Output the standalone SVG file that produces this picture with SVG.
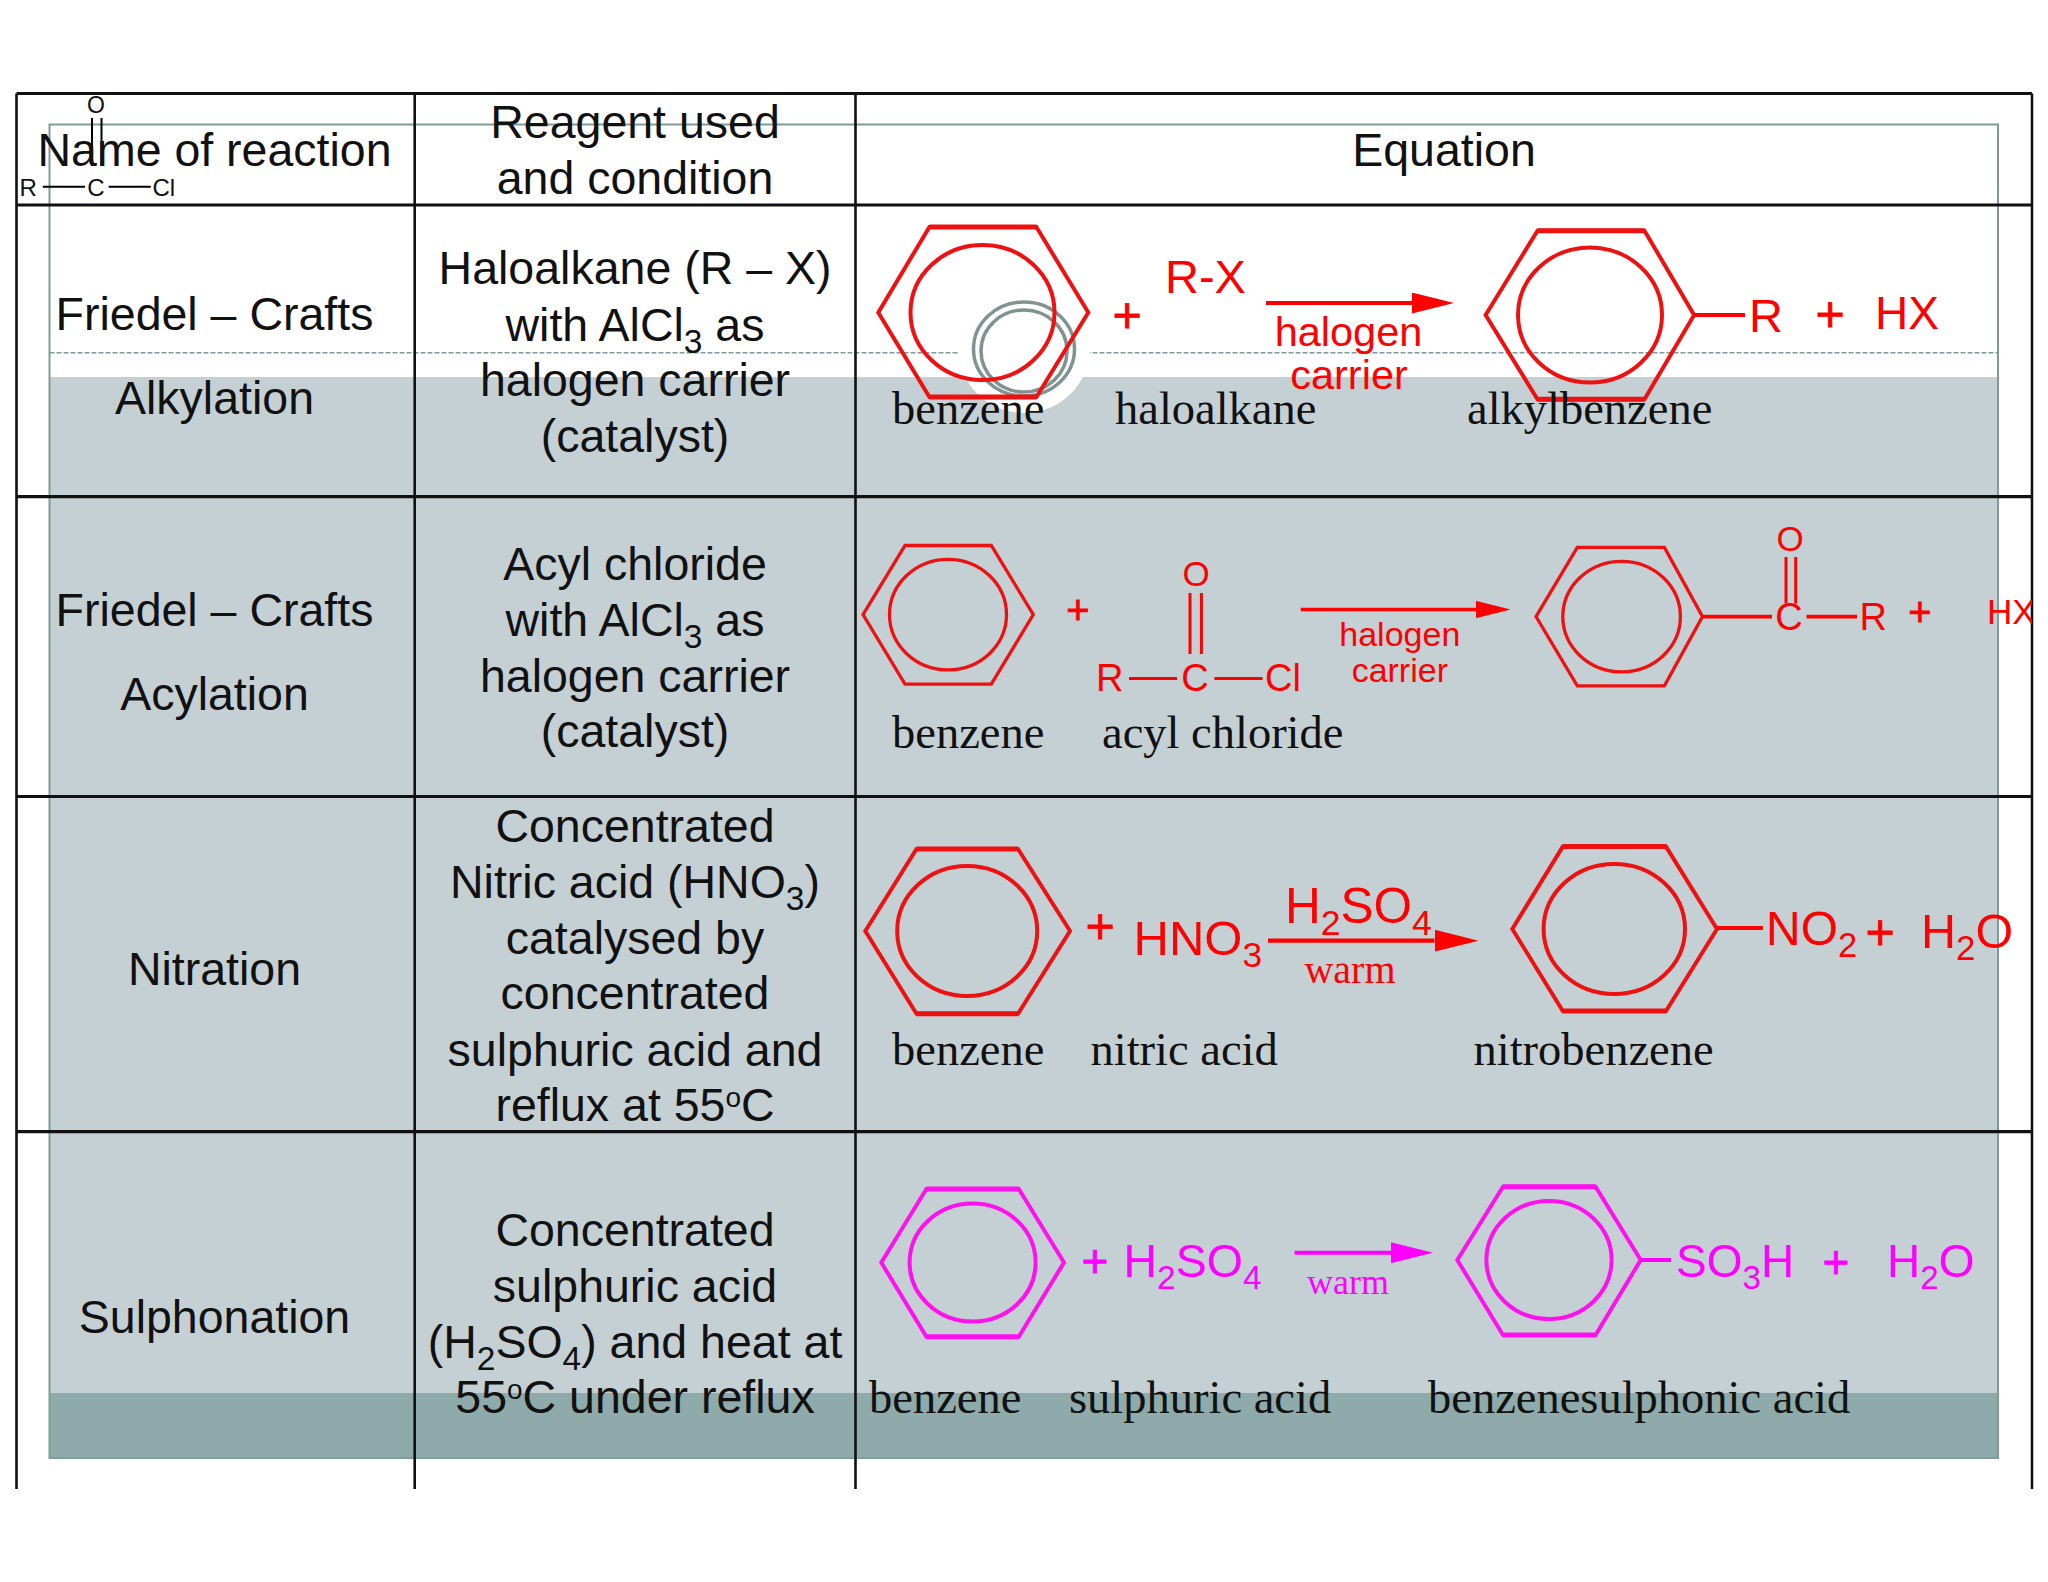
<svg xmlns="http://www.w3.org/2000/svg" width="2048" height="1582" viewBox="0 0 2048 1582">
<style>
text{font-family:"Liberation Sans",Arial,sans-serif;fill:#111}
.c{font-size:46.5px;text-anchor:middle;transform:translateY(1px)}
.l{font-family:"Liberation Serif","Times New Roman",serif;font-size:46.5px;transform:translateY(1px)}
.s{font-size:.72em}
.u{font-size:.6em}
.r{fill:#ff0000}
.m{fill:#ff00ff}
.p{stroke:#ff0000;stroke-width:.8}
.pm{stroke:#ff00ff;stroke-width:.8}
.hr{fill:none;stroke:#ee1111;stroke-width:4}
.hr2{fill:none;stroke:#ee1111;stroke-width:3.3}
.hm{fill:none;stroke:#ff11ee;stroke-width:4}
.er{fill:none;stroke:#ee1111;stroke-width:5}
.em{fill:none;stroke:#ff11ee;stroke-width:5}
.br{fill:none;stroke:#ff0000;stroke-width:4}
.bm{fill:none;stroke:#ff00ff;stroke-width:4}
.gr{stroke:#000;stroke-width:2;fill:none}
.tb{stroke:#111;stroke-width:3.2;fill:none}
.tv{stroke:#111;stroke-width:2.6;fill:none}
</style>
<defs>
<marker id="ar" markerUnits="strokeWidth" markerWidth="10.5" markerHeight="5.25" viewBox="0 0 10.5 5.25" refX="0" refY="2.625" orient="auto"><path d="M0 0L10.5 2.625L0 5.25z" fill="#ff0000"/></marker>
<marker id="am" markerUnits="strokeWidth" markerWidth="10.5" markerHeight="5.25" viewBox="0 0 10.5 5.25" refX="0" refY="2.625" orient="auto"><path d="M0 0L10.5 2.625L0 5.25z" fill="#ff00ff"/></marker>
<clipPath id="tc"><rect x="0" y="0" width="2032" height="1582"/></clipPath>
</defs>
<rect width="2048" height="1582" fill="#fff"/>
<g id="slide-background">
<rect x="49.5" y="377" width="1948.5" height="1016" fill="#c5d0d5"/>
<rect x="49.5" y="1393" width="1948.5" height="65" fill="#8eaaaa"/>
<path d="M49.5 352.7H1998" stroke="#7f9c98" stroke-width="1.6" stroke-dasharray="5 2" fill="none"/>
<circle cx="1024" cy="347" r="66" fill="#fff"/>
<ellipse cx="1024" cy="349" rx="50.5" ry="47" fill="none" stroke="#7f9491" stroke-width="3.5"/>
<ellipse cx="1024" cy="351" rx="43" ry="41" fill="none" stroke="#7f9491" stroke-width="3.5"/>
<rect x="49.5" y="124.5" width="1948.5" height="1333.5" fill="none" stroke="#7f9c98" stroke-width="2"/>
</g>
<g id="table-grid">
<path class="tb" d="M16.5 93.5H2032M16.5 205H2032M16.5 496.7H2032M16.5 796.5H2032M16.5 1131.7H2032"/>
<path class="tv" d="M16.5 93.5V1489M414.7 93.5V1489M855.5 93.5V1489M2032 93.5V1489"/>
</g>
<g id="acyl-note">
<text x="96" y="113" font-size="23" text-anchor="middle">O</text>
<path class="gr" d="M92 118V166M101.5 118V166M42.8 186.7H85M108.6 186.7H150.8"/>
<text x="19.5" y="196" font-size="24">R</text>
<text x="96" y="196" font-size="24" text-anchor="middle">C</text>
<text x="152.5" y="196" font-size="24">Cl</text>
</g>
<g id="header-name"><text class="c" x="214.5" y="165">Name of reaction</text></g>
<g id="header-reagent"><text class="c" x="635" y="137">Reagent used</text><text class="c" x="635" y="193">and condition</text></g>
<g id="header-equation"><text class="c" x="1444" y="165">Equation</text></g>
<g id="name-alkylation"><text class="c" x="214.5" y="329">Friedel – Crafts</text><text class="c" x="214.5" y="413">Alkylation</text></g>
<g id="reagent-alkylation">
<text class="c" x="635" y="283">Haloalkane (R – X)</text>
<text class="c" x="635" y="340">with AlCl<tspan class="s" dy="12">3</tspan><tspan dy="-12"> as</tspan></text>
<text class="c" x="635" y="395">halogen carrier</text>
<text class="c" x="635" y="451">(catalyst)</text>
</g>
<g id="name-acylation"><text class="c" x="214.5" y="625">Friedel – Crafts</text><text class="c" x="214.5" y="709">Acylation</text></g>
<g id="reagent-acylation">
<text class="c" x="635" y="579">Acyl chloride</text>
<text class="c" x="635" y="635">with AlCl<tspan class="s" dy="12">3</tspan><tspan dy="-12"> as</tspan></text>
<text class="c" x="635" y="691">halogen carrier</text>
<text class="c" x="635" y="746">(catalyst)</text>
</g>
<g id="name-nitration"><text class="c" x="214.5" y="984">Nitration</text></g>
<g id="reagent-nitration">
<text class="c" x="635" y="840.5">Concentrated</text>
<text class="c" x="635" y="897">Nitric acid (HNO<tspan class="s" dy="12">3</tspan><tspan dy="-12">)</tspan></text>
<text class="c" x="635" y="952.5">catalysed by</text>
<text class="c" x="635" y="1008">concentrated</text>
<text class="c" x="635" y="1064.5">sulphuric acid and</text>
<text class="c" x="635" y="1120">reflux at 55<tspan class="u" dy="-14">o</tspan><tspan dy="14">C</tspan></text>
</g>
<g id="name-sulphonation"><text class="c" x="214.5" y="1332">Sulphonation</text></g>
<g id="reagent-sulphonation">
<text class="c" x="635" y="1244.5">Concentrated</text>
<text class="c" x="635" y="1300.5">sulphuric acid</text>
<text class="c" x="635" y="1356.5">(H<tspan class="s" dy="12">2</tspan><tspan dy="-12">SO</tspan><tspan class="s" dy="12">4</tspan><tspan dy="-12">) and heat at</tspan></text>
<text class="c" x="635" y="1412">55<tspan class="u" dy="-14">o</tspan><tspan dy="14">C under reflux</tspan></text>
</g>
<g id="eq-alkylation">
<g id="benzene-1"><polygon class="hr" points="878.3,312.5 929.4,227 1036.4,227 1088.3,312.5 1036.4,397 929.4,397"/><path class="er" d="M929.4 227H1036.4M929.4 397H1036.4"/><ellipse class="hr" cx="982.5" cy="312.5" rx="72" ry="67.5"/></g>
<text class="r p" x="1127" y="332" font-size="50" text-anchor="middle">+</text>
<text class="r" x="1165" y="293" font-size="47">R-X</text>
<text class="r" x="1348.5" y="346" font-size="41.5" text-anchor="middle">halogen</text>
<text class="r" x="1349" y="389" font-size="41.5" text-anchor="middle">carrier</text>
<g id="alkylbenzene"><polygon class="hr" points="1485.6,315 1537.5,230.7 1644.5,230.7 1694.1,315 1644.5,399.3 1537.5,399.3"/><path class="er" d="M1537.5 230.7H1644.5M1537.5 399.3H1644.5"/><ellipse class="hr" cx="1590" cy="315" rx="72" ry="67.5"/></g>
<text class="r" x="1749" y="332" font-size="47">R</text>
<text class="r p" x="1830" y="331" font-size="50" text-anchor="middle">+</text>
<text class="r" x="1875" y="329" font-size="46">HX</text>
<text class="l" x="892" y="423">benzene</text>
<text class="l" x="1115" y="423">haloalkane</text>
<text class="l" x="1467" y="423">alkylbenzene</text>
</g>
<g id="eq-acylation">
<g id="benzene-2"><polygon class="hr2" points="863,614.6 905,545.5 991.3,545.5 1033.3,614.6 991.3,684.2 905,684.2"/><ellipse class="hr2" cx="948" cy="614.6" rx="58.5" ry="55.3"/></g>
<text class="r p" x="1078" y="624" font-size="40" text-anchor="middle">+</text>
<text class="r" x="1196" y="586" font-size="35" text-anchor="middle">O</text>
<text class="r" x="1096" y="691" font-size="38">R</text>
<text class="r" x="1195" y="691" font-size="38" text-anchor="middle">C</text>
<text class="r" x="1265" y="691" font-size="38">Cl</text>
<text class="r" x="1399.8" y="645.5" font-size="34" text-anchor="middle">halogen</text>
<text class="r" x="1399.8" y="682" font-size="34" text-anchor="middle">carrier</text>
<g id="acylbenzene"><polygon class="hr2" points="1536,616.6 1577.3,547.4 1664.4,547.4 1702.5,616.6 1664.4,685.8 1577.3,685.8"/><ellipse class="hr2" cx="1621.6" cy="616.6" rx="58.8" ry="55.3"/></g>
<text class="r" x="1790" y="551.4" font-size="35" text-anchor="middle">O</text>
<text class="r" x="1789" y="630" font-size="38" text-anchor="middle">C</text>
<text class="r" x="1859.5" y="630" font-size="38">R</text>
<text class="r p" x="1920" y="626" font-size="40" text-anchor="middle">+</text>
<text class="r" x="1987" y="624" font-size="35" clip-path="url(#tc)">HX</text>
<text class="l" x="892" y="747">benzene</text>
<text class="l" x="1102" y="747">acyl chloride</text>
</g>
<g id="eq-nitration">
<g id="benzene-3"><polygon class="hr" points="865.3,931 916.5,849 1018,849 1070,931 1018,1013.8 916.5,1013.8"/><path class="er" d="M916.5 849H1018M916.5 1013.8H1018"/><ellipse class="hr" cx="967.2" cy="931" rx="70" ry="65"/></g>
<text class="r p" x="1100" y="943" font-size="50" text-anchor="middle">+</text>
<text class="r" x="1133.5" y="955" font-size="49">HNO<tspan class="s" dy="12">3</tspan></text>
<text class="r" x="1285" y="923" font-size="49.5">H<tspan class="s" dy="12">2</tspan><tspan dy="-12">SO</tspan><tspan class="s" dy="12">4</tspan></text>
<text class="r l" x="1350" y="982" style="font-size:40px" text-anchor="middle">warm</text>
<g id="nitrobenzene"><polygon class="hr" points="1512.3,929 1562.8,846.6 1666,846.6 1717,929 1666,1011 1562.8,1011"/><path class="er" d="M1562.8 846.6H1666M1562.8 1011H1666"/><ellipse class="hr" cx="1614.3" cy="929" rx="70.7" ry="65"/></g>
<text class="r" x="1766" y="945" font-size="48">NO<tspan class="s" dy="12">2</tspan></text>
<text class="r p" x="1880" y="949" font-size="50" text-anchor="middle">+</text>
<text class="r" x="1921" y="948" font-size="48.5">H<tspan class="s" dy="12">2</tspan><tspan dy="-12">O</tspan></text>
<text class="l" x="892" y="1064">benzene</text>
<text class="l" x="1090.5" y="1064">nitric acid</text>
<text class="l" x="1473.5" y="1064">nitrobenzene</text>
</g>
<g id="eq-sulphonation">
<g id="benzene-4"><polygon class="hm" points="881.3,1262.5 926.4,1189 1018.8,1189 1064,1262.5 1018.8,1336.7 926.4,1336.7"/><path class="em" d="M926.4 1189H1018.8M926.4 1336.7H1018.8"/><ellipse class="hm" cx="972.6" cy="1262.5" rx="63" ry="59"/></g>
<text class="m pm" x="1095" y="1277" font-size="46" text-anchor="middle">+</text>
<text class="m" x="1123.5" y="1277" font-size="46.5">H<tspan class="s" dy="12">2</tspan><tspan dy="-12">SO</tspan><tspan class="s" dy="12">4</tspan></text>
<text class="m l" x="1348" y="1292.7" style="font-size:36px" text-anchor="middle">warm</text>
<g id="benzenesulphonic-acid"><polygon class="hm" points="1457.3,1260 1503,1186.7 1595.6,1186.7 1640.7,1260 1595.6,1335 1503,1335"/><path class="em" d="M1503 1186.7H1595.6M1503 1335H1595.6"/><ellipse class="hm" cx="1549" cy="1260" rx="62.6" ry="59"/></g>
<text class="m" x="1676" y="1276.5" font-size="46">SO<tspan class="s" dy="12">3</tspan><tspan dy="-12">H</tspan></text>
<text class="m pm" x="1836" y="1278" font-size="46" text-anchor="middle">+</text>
<text class="m" x="1887" y="1276.5" font-size="46">H<tspan class="s" dy="12">2</tspan><tspan dy="-12">O</tspan></text>
<text class="l" x="869" y="1411.7">benzene</text>
<text class="l" x="1069" y="1411.7">sulphuric acid</text>
<text class="l" x="1428" y="1411.7">benzenesulphonic acid</text>
</g>
<g id="connectors">
<path class="br" d="M1266 303H1412" marker-end="url(#ar)"/>
<path class="br" d="M1300.7 609.5H1476" style="stroke-width:3.3" marker-end="url(#ar)"/>
<path class="br" d="M1268 940.7H1434.5" style="stroke-width:4.2" marker-end="url(#ar)"/>
<path class="bm" d="M1294.6 1252.7H1391" marker-end="url(#am)"/>
<path class="br" d="M1694 315H1745M1717 928H1763"/>
<path class="br" d="M1702.5 616.6H1772M1806.5 616.6H1857" style="stroke-width:3.6"/>
<path class="br" d="M1190 593V654M1201.4 593V654M1786 557V603.6M1795.7 557V603.6M1129 678.6H1177M1214.4 678.6H1262.5" style="stroke-width:3"/>
<path class="bm" d="M1640.7 1260H1671"/>
</g>
</svg>
